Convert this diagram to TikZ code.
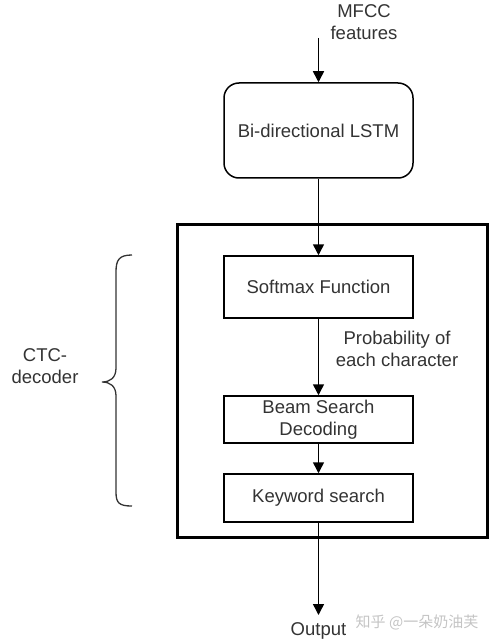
\documentclass[tikz,border=0pt]{standalone}
\usepackage{fontspec}
\setmainfont{Liberation Sans}
\newfontfamily\cjkfont{Noto Sans CJK SC}
\usepackage{xcolor}
\usetikzlibrary{positioning}
\usetikzlibrary{arrows.meta}
\definecolor{txtgray}{HTML}{333333}
\definecolor{markgray}{HTML}{C4C4C4}
\tikzset{
	stage/.style={draw, line width=1.5pt, minimum width=189pt, inner sep=0pt, align=center, text=txtgray, font=\fontsize{18.5}{22}\selectfont},
	note/.style={inner sep=0pt, align=center, text=txtgray, font=\fontsize{18.5}{22}\selectfont},
	flow/.style={-{Triangle[length=11pt,width=11pt]}, line width=1.5pt},
}

\begin{document}
\begin{tikzpicture}[x=1pt, y=-1pt]
		\useasboundingbox (0,0) rectangle (489,644);
		\node[draw, line width=3pt, minimum width=310pt, minimum height=313pt, inner sep=0pt] (decoder) at (332,380.5) {};
		\node[stage, rounded corners=15pt, minimum height=95pt] (lstm) at (318.5,130.5) {Bi-directional LSTM};
		\node[stage, minimum height=62pt] (softmax) at (318.5,287) {Softmax Function};
		\node[stage, minimum height=47pt] (beam) at (318.5,419.5) {Beam Search\\Decoding};
		\node[stage, minimum height=48pt] (keyword) at (318.5,498) {Keyword search};
		\node[note] (mfcc) at (364,22) {MFCC\\features};
		\node[note] (prob) at (397,349) {Probability of\\each character};
		\node[note] (ctc) at (45,366) {CTC-\\decoder};
		\node[note] (output) at (318.5,631) {Output};
		\node[inner sep=0pt, text=markgray, font=\cjkfont\fontsize{15}{18}\selectfont] (mark) at (417,622) {知乎 @一朵奶油芙};
		\coordinate (in) at (318.5,38);
		\coordinate (out) at (318.5,615);
		\draw[flow] (in) -- (lstm);
		\draw[flow] (lstm) -- (softmax);
		\draw[flow] (softmax) -- (beam);
		\draw[flow] (beam) -- (keyword);
		\draw[flow] (keyword) -- (out);
		\draw[line width=1.3pt, txtgray] (132,255) .. controls (119,255) and (116,260) .. (116,272) -- (116,368) .. controls (116,378) and (110,382) .. (102,382) .. controls (110,382) and (116,386) .. (116,396) -- (116,492) .. controls (116,503) and (119,506) .. (132,506);
	\end{tikzpicture}
\end{document}
